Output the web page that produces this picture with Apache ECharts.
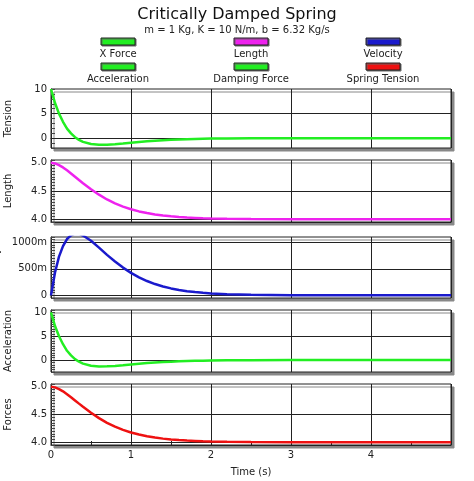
<!DOCTYPE html>
<html>
<head>
<meta charset="utf-8">
<script src="https://cdn.jsdelivr.net/npm/echarts@6/dist/echarts.min.js"></script>
<style>html,body{margin:0;padding:0;background:#fff}#chart{width:474px;height:481px}</style>
</head>
<body>
<div id="chart"></div>
<script>
const time = [0,0.05,0.1,0.15,0.2,0.25,0.3,0.35,0.4,0.5,0.6,0.7,0.8,0.9,1.0,1.1,1.2,1.3,1.4,1.5,1.6,1.7,1.8,1.9,2.0,2.2,2.5,3.0,3.5,4.0,5.0];
const tension = [10,7.14,4.99,3.33,1.95,0.98,0.20,-0.34,-0.75,-1.20,-1.35,-1.32,-1.22,-1.07,-0.91,-0.77,-0.63,-0.51,-0.41,-0.33,-0.26,-0.20,-0.16,-0.12,-0.09,-0.05,-0.02,-0.005,0,0,0];
const length = [5,4.989,4.959,4.918,4.867,4.812,4.754,4.696,4.639,4.532,4.435,4.350,4.281,4.223,4.176,4.138,4.108,4.084,4.065,4.050,4.039,4.029,4.023,4.017,4.013,4.007,4.003,4.001,4,4,4];
const velocity = [0,0.431,0.729,0.928,1.062,1.13,1.161,1.158,1.128,1.03,0.90,0.763,0.638,0.523,0.423,0.340,0.270,0.213,0.168,0.131,0.102,0.079,0.061,0.047,0.036,0.021,0.009,0.002,0,0,0];
const acceleration = tension.slice();
const forces = length.slice();
const legendItems = [
  ['X Force', '#22ee22'], ['Length', '#ee22ee'], ['Velocity', '#1a1acc'],
  ['Acceleration', '#22ee22'], ['Damping Force', '#22ee22'], ['Spring Tension', '#ee1111']
];

const half = v => Math.abs(v*2 - Math.round(v*2)) < 1e-6;
const panels = [
  {name: 'Tension', data: tension, color: '#22ee22', top: 89, h: 59, min: -2, max: 10, step: 1, lab: v => (v % 5 === 0 ? String(v) : ''), lines: [0, 5]},
  {name: 'Length', data: length, color: '#ee22ee', top: 160, h: 62, min: 3.95, max: 5.05, step: 0.05, lab: v => (half(v) ? v.toFixed(1) : ''), lines: [4, 4.5]},
  {name: 'Velocity', data: velocity, color: '#1a1acc', top: 237, h: 61, min: -0.05, max: 1.1, step: 0.05, lab: v => (Math.abs(v) < 1e-6 ? '0' : Math.abs(v - 0.5) < 1e-6 ? '500m' : Math.abs(v - 1) < 1e-6 ? '1000m' : ''), lines: [0, 0.5, 1]},
  {name: 'Acceleration', data: acceleration, color: '#22ee22', top: 310, h: 62, min: -2.5, max: 10.5, step: 0.5, lab: v => (v % 5 === 0 ? String(v) : ''), lines: [0, 5]},
  {name: 'Forces', data: forces, color: '#ee1111', top: 384, h: 61, min: 3.95, max: 5.05, step: 0.05, lab: v => (half(v) ? v.toFixed(1) : ''), lines: [4, 4.5]}
];

const font = 'DejaVu Sans';
const graphic = [];
legendItems.forEach((it, i) => {
  const cx = [118, 251, 383][i % 3];
  const y = i < 3 ? 38 : 63;
  graphic.push({type: 'rect', shape: {x: cx - 17, y: y, width: 34, height: 7},
    style: {fill: it[1], stroke: '#222', lineWidth: 1, shadowColor: '#666', shadowOffsetX: 1, shadowOffsetY: 1}});
  graphic.push({type: 'text', x: cx, y: y + 11, style: {text: it[0], fill: '#222', font: '10px ' + font, textAlign: 'center'}});
});

const option = {
  animation: false,
  title: {text: 'Critically Damped Spring', subtext: 'm = 1 Kg, K = 10 N/m, b = 6.32 Kg/s', left: 'center', top: 2,
    itemGap: 2, textStyle: {fontSize: 16, fontWeight: 'normal', color: '#111', fontFamily: font},
    subtextStyle: {fontSize: 10, color: '#222', fontFamily: font}},
  graphic: graphic,
  grid: panels.map(p => ({left: 51, right: 23, top: p.top, height: p.h, show: true, backgroundColor: '#fff',
    outerBoundsMode: 'none', containLabel: false,
    borderColor: '#222', borderWidth: 1, shadowColor: '#888', shadowOffsetX: 3, shadowOffsetY: 3, shadowBlur: 0})),
  xAxis: panels.map((p, i) => ({type: 'value', gridIndex: i, min: 0, max: 5, interval: 1,
    name: i === 4 ? 'Time (s)' : '', nameLocation: 'middle', nameGap: 22,
    nameTextStyle: {fontSize: 10, color: '#222', fontFamily: font},
    axisLine: {show: true, lineStyle: {color: '#222'}},
    axisTick: {show: i === 4, inside: true, length: 5, lineStyle: {color: '#222'}},
    minorTick: {show: i === 4, splitNumber: 2, length: 4, lineStyle: {color: '#222'}},
    axisLabel: {show: i === 4, showMaxLabel: false, fontSize: 10, color: '#222', fontFamily: font, margin: 5},
    splitLine: {show: true, lineStyle: {color: '#222', width: 1}}})),
  yAxis: panels.map((p, i) => ({type: 'value', gridIndex: i, min: p.min, max: p.max, interval: p.step,
    name: p.name, nameLocation: 'middle', nameGap: 38, nameTextStyle: {fontSize: 10, color: '#222', fontFamily: font},
    axisLine: {show: true, lineStyle: {color: '#222'}},
    axisTick: {show: true, inside: true, length: 4, lineStyle: {color: '#444'}},
    axisLabel: {formatter: p.lab, fontSize: 10, color: '#222', fontFamily: font, margin: 4, showMinLabel: true, showMaxLabel: true},
    splitLine: {show: false}})),
  series: panels.map((p, i) => ({type: 'line', xAxisIndex: i, yAxisIndex: i, smooth: false, symbol: 'none',
    data: time.map((t, k) => [t, p.data[k]]), lineStyle: {color: p.color, width: 2.5}, z: 3,
    markLine: {silent: true, symbol: 'none', label: {show: false}, lineStyle: {color: '#222', type: 'solid', width: 1}, z: 1,
      data: p.lines.map(v => ({yAxis: v}))}}))
};
echarts.init(document.getElementById('chart')).setOption(option);
</script>
</body>
</html>
